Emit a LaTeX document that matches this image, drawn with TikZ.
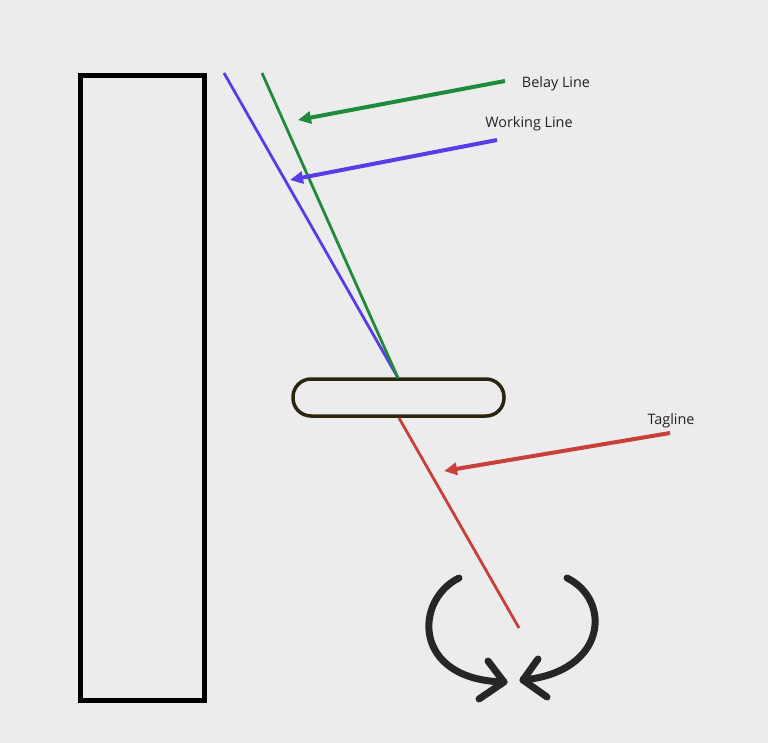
\documentclass[tikz,border=0pt]{standalone}
\usepackage{fontspec}
\setmainfont{Open Sans}
\usetikzlibrary{arrows.meta}
\definecolor{bg}{HTML}{ECECEC}
\definecolor{wlcol}{HTML}{5B3BE8}
\definecolor{blcol}{HTML}{1E8A3C}
\definecolor{tlcol}{HTML}{C8403A}
\definecolor{strcol}{HTML}{2B2510}
\definecolor{txtcol}{HTML}{222222}
\begin{document}
\begin{tikzpicture}[x=1pt,y=-1pt,
  lbl/.style={font=\fontsize{14.4}{17}\selectfont, text=txtcol, inner sep=0pt},
  rope/.style={line width=2.8pt},
  pointer/.style={line width=4pt, -{Triangle[length=13pt,width=12pt]}},
  swirl/.style={line width=7pt, line cap=round, line join=round, draw=black!85}]
\fill[bg] (0,0) rectangle (768,743);
\useasboundingbox (0,0) rectangle (768,743);
% wall
\draw[line width=5pt] (80.5,75.5) rectangle (204.5,700.5);
% named points
\coordinate (wtop) at (224,73);
\coordinate (btop) at (262,73);
\coordinate (meet) at (398,378);
\coordinate (tstart) at (399,418);
\coordinate (tend) at (519,628);
% stretcher
\draw[line width=3.5pt, draw=strcol, rounded corners=18pt] (293,379) rectangle (504,416);
% ropes
\draw[rope, draw=wlcol] (wtop) -- (meet);
\draw[rope, draw=blcol] (btop) -- (meet);
\draw[rope, draw=tlcol] (tstart) -- (tend);
% labels
\node[lbl] (bl) at (556,83.5) {Belay Line};
\node[lbl] (wl) at (529,123.5) {Working Line};
\node[lbl] (tl) at (671,420.5) {Tagline};
% pointers
\coordinate (bls) at (505,81);
\coordinate (ble) at (298,120);
\coordinate (wls) at (497,140);
\coordinate (wle) at (290,180);
\coordinate (tls) at (670,433);
\coordinate (tle) at (444,471);
\draw[pointer, draw=blcol, fill=blcol] (bls) -- (ble);
\draw[pointer, draw=wlcol, fill=wlcol] (wls) -- (wle);
\draw[pointer, draw=tlcol, fill=tlcol] (tls) -- (tle);
% rotation arrows
\coordinate (ls) at (459,578);
\coordinate (lt) at (504,682);
\coordinate (la1) at (488,661);
\coordinate (la2) at (479,699);
\coordinate (rs) at (567,578);
\coordinate (rt) at (523,680);
\coordinate (ra1) at (538,659);
\coordinate (ra2) at (547,697);
\draw[swirl] (ls) .. controls (414,600) and (412,680) .. (lt);
\draw[swirl] (la1) -- (lt) -- (la2);
\draw[swirl] (rs) .. controls (612,600) and (607,672) .. (rt);
\draw[swirl] (ra1) -- (rt) -- (ra2);
\end{tikzpicture}
\end{document}
